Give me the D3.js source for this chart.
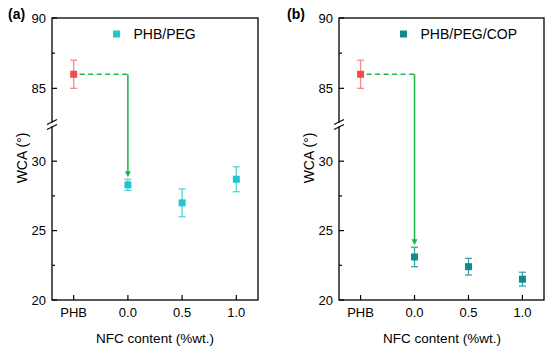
<!DOCTYPE html>
<html><head><meta charset="utf-8">
<script src="https://cdn.jsdelivr.net/npm/d3@7/dist/d3.min.js"></script>
<style>body{margin:0;background:#fff}svg{display:block;font-family:"Liberation Sans",Arial,sans-serif}</style>
</head><body>
<svg id="c" width="550" height="350"></svg>
<script>
const categories = ["PHB", "0.0", "0.5", "1.0"];
const xPositions = [-0.5, 0, 0.5, 1.0];
const phbValue = 86.0, phbErr = 1.0;
const pegValues = [28.3, 27.0, 28.7];
const pegErrors = [0.4, 1.0, 0.9];
const copValues = [23.1, 22.4, 21.5];
const copErrors = [0.7, 0.6, 0.5];
const yMajorTicks = [20, 25, 30, 85, 90];
const yMinorTicks = [22.5, 27.5, 87.5];

const svg = d3.select("#c");
const panels = [
  {label:"(a)", legend:"PHB/PEG", values:pegValues, errors:pegErrors, color:"#1ec6cf", errColor:"#4fd6dd", left:52, right:258, labelX:8, titleX:155},
  {label:"(b)", legend:"PHB/PEG/COP", values:copValues, errors:copErrors, color:"#0f8b8d", errColor:"#3aa3a6", left:339, right:544, labelX:287, titleX:442}
];
const plotTop = 18, plotBottom = 300;
const red = "#f24b4b", redErr = "#f58a8a", green = "#1fb84a";

panels.forEach(p => {
  const g = svg.append("g");
  const x = d3.scaleLinear().domain([-0.7, 1.2]).range([p.left, p.right]);
  const yLow = d3.scaleLinear().domain([20, 32.5]).range([plotBottom, 126.5]);
  const yHigh = d3.scaleLinear().domain([82.5, 90]).range([123.5, plotTop]);
  const y = v => v >= 60 ? yHigh(v) : yLow(v);

  // frame
  g.append("rect").attr("x", p.left).attr("y", plotTop).attr("width", p.right - p.left).attr("height", plotBottom - plotTop)
    .attr("fill", "none").attr("stroke", "#000").attr("stroke-width", 1.3);

  // y ticks (inward)
  yMajorTicks.forEach(t => {
    g.append("line").attr("x1", p.left).attr("x2", p.left + 5).attr("y1", y(t)).attr("y2", y(t)).attr("stroke", "#000").attr("stroke-width", 1.2);
    g.append("text").attr("x", p.left - 6).attr("y", y(t)).attr("dy", "0.35em").attr("text-anchor", "end")
      .attr("font-size", 13).text(t);
  });
  yMinorTicks.forEach(t => {
    g.append("line").attr("x1", p.left).attr("x2", p.left + 3).attr("y1", y(t)).attr("y2", y(t)).attr("stroke", "#000").attr("stroke-width", 1.2);
  });
  // axis break
  g.append("rect").attr("x", p.left - 4).attr("y", 122.5).attr("width", 8).attr("height", 4).attr("fill", "#fff");
  [122, 127].forEach(yy => {
    g.append("line").attr("x1", p.left - 5).attr("x2", p.left + 5).attr("y1", yy + 2.5).attr("y2", yy - 2.5)
      .attr("stroke", "#000").attr("stroke-width", 1.1);
  });

  // x ticks
  xPositions.forEach((v, i) => {
    g.append("line").attr("x1", x(v)).attr("x2", x(v)).attr("y1", plotBottom).attr("y2", plotBottom - 5).attr("stroke", "#000").attr("stroke-width", 1.2);
    g.append("text").attr("x", x(v)).attr("y", 312).attr("dy", "0.35em").attr("text-anchor", "middle")
      .attr("font-size", 13).text(categories[i]);
  });

  // titles
  g.append("text").attr("x", p.titleX).attr("y", 338).attr("dy", "0.35em").attr("text-anchor", "middle")
    .attr("font-size", 13.5).text("NFC content (%wt.)");
  g.append("text").attr("transform", `translate(${p.left - 30},158) rotate(-90)`).attr("dy", "0.35em")
    .attr("text-anchor", "middle").attr("font-size", 14).text("WCA (°)");
  g.append("text").attr("x", p.labelX).attr("y", 14).attr("dy", "0.35em").attr("font-size", 14)
    .attr("font-weight", "bold").text(p.label);

  // legend
  const lx = p.left + 64.5;
  g.append("rect").attr("x", lx - 3.5).attr("y", 34 - 3.5).attr("width", 7).attr("height", 7).attr("fill", p.color);
  g.append("text").attr("x", lx + 17).attr("y", 34).attr("dy", "0.35em").attr("font-size", 14).text(p.legend);

  // guide arrow
  const yP = y(phbValue);
  g.append("line").attr("x1", x(-0.5) + 6).attr("x2", x(0)).attr("y1", yP).attr("y2", yP)
    .attr("stroke", green).attr("stroke-width", 1.6).attr("stroke-dasharray", "5,3.5");
  const yEnd = y(p.values[0] + p.errors[0]) - 2;
  g.append("line").attr("x1", x(0)).attr("x2", x(0)).attr("y1", yP).attr("y2", yEnd - 5)
    .attr("stroke", green).attr("stroke-width", 1.6);
  g.append("path").attr("d", `M${x(0) - 3},${yEnd - 6}L${x(0) + 3},${yEnd - 6}L${x(0)},${yEnd}Z`).attr("fill", green);

  // points with error bars
  const pts = [{xv: -0.5, v: phbValue, e: phbErr, c: red, ec: redErr}]
    .concat(p.values.map((v, i) => ({xv: xPositions[i + 1], v: v, e: p.errors[i], c: p.color, ec: p.errColor})));
  pts.forEach(d => {
    const cx = x(d.xv);
    g.append("line").attr("x1", cx).attr("x2", cx).attr("y1", y(d.v + d.e)).attr("y2", y(d.v - d.e)).attr("stroke", d.ec).attr("stroke-width", 1.3);
    [d.v + d.e, d.v - d.e].forEach(t => {
      g.append("line").attr("x1", cx - 3.5).attr("x2", cx + 3.5).attr("y1", y(t)).attr("y2", y(t)).attr("stroke", d.ec).attr("stroke-width", 1.3);
    });
    g.append("rect").attr("x", cx - 3.5).attr("y", y(d.v) - 3.5).attr("width", 7).attr("height", 7).attr("fill", d.c);
  });
});
</script>
</body></html>
